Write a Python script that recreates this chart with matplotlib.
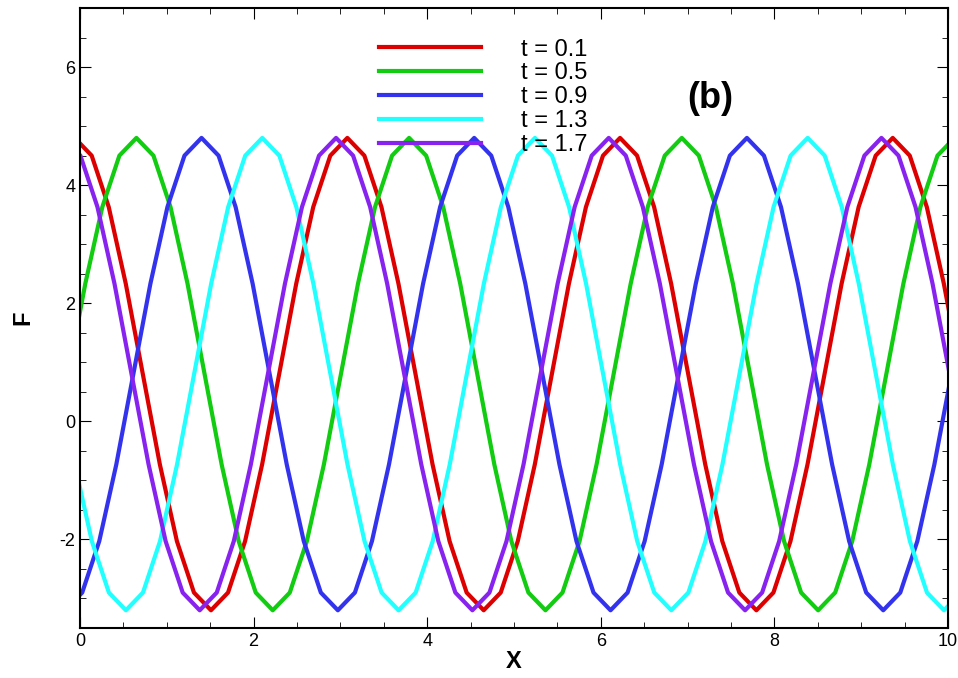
import numpy as np
import matplotlib
matplotlib.use('Agg')
import matplotlib.pyplot as plt
from matplotlib.ticker import MultipleLocator

plt.rcParams['font.family'] = ['Liberation Sans', 'DejaVu Sans']
plt.rcParams['axes.unicode_minus'] = False

# one period of F, read at 16 even steps from a crest (period ~3.14 in X)
profile = [4.8, 4.5, 3.63, 2.33, 0.8, -0.73, -2.03, -2.9,
           -3.2, -2.9, -2.03, -0.73, 0.8, 2.33, 3.63, 4.5]
period = 3.1416
# X position of one crest of each curve
crest = [3.08, 0.65, 1.40, 2.10, 2.95]
labels = ['t = 0.1', 't = 0.5', 't = 0.9', 't = 1.3', 't = 1.7']
colors = ['#dd0000', '#11cc11', '#3333ee', '#22ffff', '#8822ee']

fig = plt.figure(figsize=(9.58, 6.78), dpi=100)
ax = fig.add_axes([80/958, 50/678, 868/958, 620/678])

n = len(profile)
for c, lab, col in zip(crest, labels, colors):
    start = c - 2 * period
    xs = start + np.arange(6 * n + 1) * period / n
    fs = np.array(profile * 6 + profile[:1])
    ax.plot(xs, fs, color=col, lw=3, label=lab)

ax.set_xlim(0, 10)
ax.set_ylim(-3.5, 7)
ax.xaxis.set_major_locator(MultipleLocator(2))
ax.xaxis.set_minor_locator(MultipleLocator(0.5))
ax.yaxis.set_major_locator(MultipleLocator(2))
ax.yaxis.set_minor_locator(MultipleLocator(0.5))
ax.tick_params(which='both', direction='in', top=True, right=True, labelsize=13)
ax.tick_params(which='major', length=8)
ax.tick_params(which='minor', length=4)
for s in ax.spines.values():
    s.set_linewidth(1.5)
ax.set_xlabel('X', fontsize=17, fontweight='bold', labelpad=0)
ax.set_ylabel('F', fontsize=17, fontweight='bold', labelpad=18)
ax.text(7.0, 5.3, '(b)', fontsize=26, fontweight='bold')
ax.legend(loc='upper left', bbox_to_anchor=(0.32, 0.985), frameon=False,
          fontsize=17, handlelength=4.3, labelspacing=0.08, handletextpad=1.7)

fig.savefig('out.png', dpi=100)
